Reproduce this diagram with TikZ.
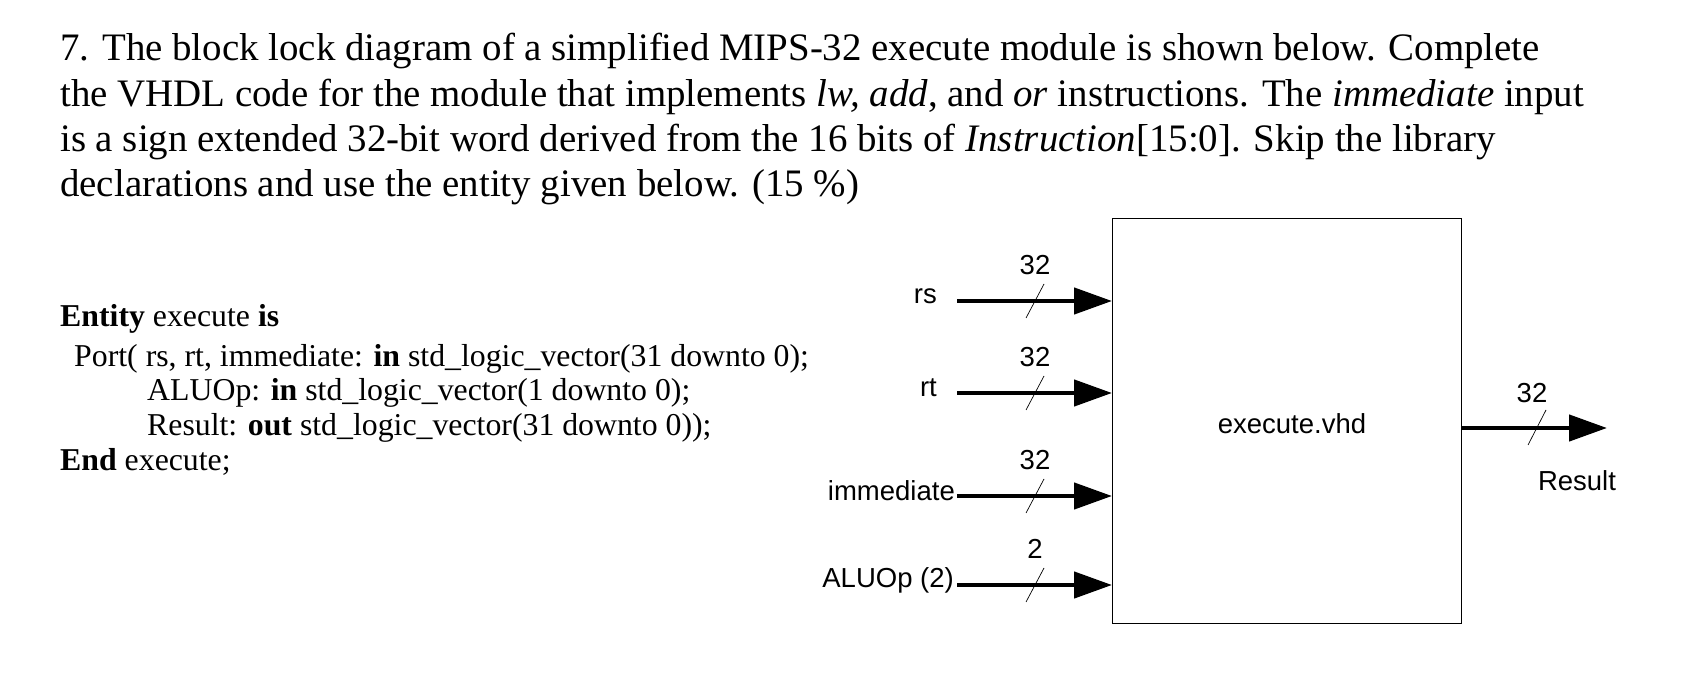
\documentclass[tikz,border=0pt]{standalone}
\usepackage{fontspec}
\setmainfont{Liberation Serif}
\newfontfamily\arial{Liberation Sans}
\usetikzlibrary{arrows.meta}
\begin{document}
\begin{tikzpicture}[x=1pt,y=-1pt,
  hd/.style={anchor=mid west,inner sep=0pt,font=\fontsize{38.9}{38}\selectfont},
  cd/.style={anchor=mid west,inner sep=0pt,font=\fontsize{31.8}{30}\selectfont},
  lb/.style={inner sep=0pt,font=\arial\fontsize{27.5}{27}\selectfont},
  bus/.style={line width=4.5pt,-{Triangle[length=38pt,width=26pt]}},
  sl/.style={line width=0.7pt}]
\useasboundingbox (0,0) rectangle (1702,692);
\node[hd] (h1) at (60,58) {7. The block lock diagram of a simplified MIPS-32 execute module is shown below. Complete};
\node[hd] (h2) at (60,104) {the VHDL code for the module that implements \textit{lw, add}, and \textit{or} instructions. The \textit{immediate} input};
\node[hd] (h3) at (60,149) {is a sign extended 32-bit word derived from the 16 bits of \textit{Instruction}[15:0]. Skip the library};
\node[hd] (h4) at (60,194) {declarations and use the entity given below. (15 \%)};
\node[cd] (c1) at (60,324) {\textbf{Entity} execute \textbf{is}};
\node[cd] (c2) at (74,364) {Port( rs, rt, immediate: \textbf{in} std\_logic\_vector(31 downto 0);};
\node[cd] (c3) at (147,398) {ALUOp: \textbf{in} std\_logic\_vector(1 downto 0);};
\node[cd] (c4) at (147,433) {Result: \textbf{out} std\_logic\_vector(31 downto 0));};
\node[cd] (c5) at (60,468) {\textbf{End} execute;};
\node[draw,line width=1pt,minimum width=349pt,minimum height=404pt,inner sep=0pt] (box) at (1287,421) {};
\node[lb] at (1292,424) {execute.vhd};
\foreach \n/\y/\t/\w/\x in {rs/301/rs/32/937, rt/393/rt/32/937, im/496/immediate/32/955, al/585/ALUOp (2)/2/954}{
  \node[lb,anchor=east] (l\n) at (\x,\y-5) {\t};
  \coordinate (s\n) at (957,\y);
  \coordinate (e\n) at (box.west |- 0,\y);
  \draw[bus] (s\n) -- (e\n);
  \draw[sl] (1026,\y+17) -- (1044,\y-17);
  \node[lb] (w\n) at (1035,\y-36) {\w};
}
\coordinate (out) at (1607,428);
\draw[bus] (box.east |- out) -- (out);
\draw[sl] (1528,445) -- (1546,410);
\node[lb] (wo) at (1532,393) {32};
\node[lb] (res) at (1577,481) {Result};
\end{tikzpicture}
\end{document}
